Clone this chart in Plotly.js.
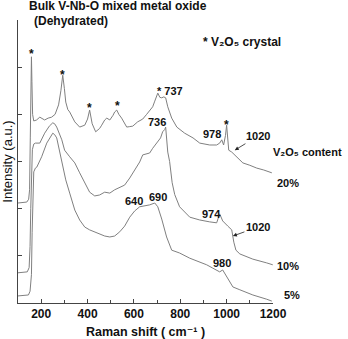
<!DOCTYPE html>
<html>
<head>
<meta charset="utf-8">
<script src="https://cdn.plot.ly/plotly-3.0.1.min.js"></script>
<style>html,body{margin:0;padding:0;background:#fff;}#chart{width:348px;height:339px;}</style>
</head>
<body>
<div id="chart"></div>
<script>
// Raman shift (cm-1) and intensity (a.u., offset) for each V2O5 content
const shift20 = [100,138,146,150,153,156,158,160,163,168,180,194,202,215,230,245,260,275,285,293,300,306,315,323,345,366,388,400,409,420,435,452,461,474,483,496,510,517,526,535,547,569,582,595,616,638,655,668,681,690,694,703,712,720,729,737,746,754,763,785,819,855,884,927,957,970,979,987,995,1000,1005,1009,1022,1044,1070,1100,1130,1160,1195];
const int20 = [2.12,2.14,2.20,2.40,3.50,4.80,5.22,4.70,4.00,3.86,3.88,3.94,3.92,3.88,3.92,3.94,4.00,4.20,4.50,4.83,4.55,4.26,4.10,4.05,3.84,3.73,3.77,3.90,4.09,3.80,3.63,3.70,3.77,3.88,3.92,3.88,3.98,4.05,4.09,4.00,3.92,3.73,3.74,3.75,3.84,3.90,4.00,4.09,4.16,4.28,4.35,4.45,4.36,4.35,4.37,4.35,4.16,4.02,3.92,3.73,3.60,3.50,3.39,3.35,3.35,3.39,3.46,3.35,3.55,3.77,3.50,3.24,3.20,3.10,2.97,2.92,2.86,2.82,2.76];

const shift10 = [100,140,148,152,155,158,162,168,175,194,215,235,250,258,267,289,301,323,345,366,388,409,431,452,474,496,517,539,560,582,603,625,638,668,681,698,715,724,733,737,741,746,754,765,776,797,841,884,927,957,970,983,1005,1022,1031,1040,1057,1113,1173,1199];
const int10 = [0.64,0.66,0.75,1.20,2.00,2.80,3.25,3.37,3.39,3.39,3.60,3.75,3.82,3.80,3.73,3.46,3.24,3.10,2.97,2.76,2.54,2.35,2.27,2.29,2.35,2.33,2.40,2.46,2.50,2.65,2.82,2.99,3.14,3.18,3.28,3.39,3.50,3.63,3.68,3.73,3.45,3.20,3.00,2.55,2.30,2.04,1.82,1.76,1.72,1.70,1.89,1.74,1.63,1.55,1.29,1.12,1.04,0.93,0.85,0.81];

const shift5 = [100,145,152,158,161,164,168,175,181,202,224,250,258,267,289,306,323,345,366,388,409,431,452,474,496,517,539,560,582,603,625,647,668,690,703,720,741,763,797,841,884,914,940,970,983,1000,1027,1057,1113,1173,1195];
const int5 = [0.15,0.17,0.25,0.60,1.50,2.40,2.78,2.86,2.88,3.10,3.39,3.60,3.57,3.50,3.03,2.61,2.33,1.97,1.76,1.61,1.55,1.51,1.46,1.42,1.40,1.42,1.51,1.63,1.82,1.95,2.04,2.06,2.08,2.12,2.04,1.78,1.40,1.12,1.06,0.95,0.87,0.81,0.74,0.66,0.70,0.55,0.34,0.28,0.17,0.08,0.04];

const seriesNames = ['20%', '10%', '5%'];
const xTickVals = [200, 400, 600, 800, 1000, 1200];
const xTickText = ['200', '400', '600', '800', '1000', '1200'];

// V2O5 crystal band markers (asterisks) on the 20% spectrum
const starShift = [157, 293, 409, 530, 1000];
const starInt = [5.27, 4.84, 4.14, 4.18, 3.78];

// band labels (plain)
const bandText = ['* 737', '978', '736', '640', '690', '974', '980'];
const bandShift = [754, 938, 700, 599, 703, 936, 979];
const bandInt = [4.49, 3.58, 3.83, 2.16, 2.24, 1.89, 0.85];

// 1020 shoulder labels with arrows: arrow tip (data) and label offset (px)
const arrowText = ['1020', '1020'];
const arrowShift = [1035, 1027];
const arrowInt = [3.24, 1.42];
const arrowDx = [23, 25];
const arrowDy = [-14, -9];

// labels outside the plot area (paper fractions)
const outerText = ['Bulk V-Nb-O mixed metal oxide', '(Dehydrated)', 'V\u2082O\u2085 content', '20%', '10%', '5%'];
const outerX = [0.035, 0.055, 1.137, 1.057, 1.059, 1.075];
const outerY = [1.051, 0.9975, 0.534, 0.424, 0.131, 0.028];
const outerAnchor = ['left', 'left', 'center', 'center', 'center', 'center'];
const outerSize = [12, 12, 11, 11, 11, 11];

const lineStyle = {color: '#808080', width: 1};
const traces = [
  {x: shift20, y: int20, name: seriesNames[0]},
  {x: shift10, y: int10, name: seriesNames[1]},
  {x: shift5, y: int5, name: seriesNames[2]}
].map(t => Object.assign(t, {type: 'scatter', mode: 'lines', line: lineStyle, showlegend: false, hoverinfo: 'skip'}));

const F = 'Liberation Sans, Arial, DejaVu Sans, sans-serif';
const bold = (size) => ({family: F, size: size, color: '#111', weight: 'bold'});

const annotations = [];
starShift.forEach((s, i) => annotations.push({x: s, y: starInt[i], xref: 'x', yref: 'y', xanchor: 'center', yanchor: 'middle', text: '*', showarrow: false, font: bold(12)}));
bandText.forEach((t, i) => annotations.push({x: bandShift[i], y: bandInt[i], xref: 'x', yref: 'y', xanchor: 'center', yanchor: 'middle', text: t, showarrow: false, font: bold(11)}));
arrowText.forEach((t, i) => annotations.push({x: arrowShift[i], y: arrowInt[i], xref: 'x', yref: 'y', text: t, showarrow: true, ax: arrowDx[i], ay: arrowDy[i], arrowhead: 2, arrowsize: 1, arrowwidth: 0.8, arrowcolor: '#222', font: bold(11)}));
outerText.forEach((t, i) => annotations.push({x: outerX[i], y: outerY[i], xref: 'paper', yref: 'paper', xanchor: outerAnchor[i], yanchor: 'middle', text: t, showarrow: false, font: bold(outerSize[i])}));
annotations.push({x: 1065, y: 5.53, xref: 'x', yref: 'y', xanchor: 'center', yanchor: 'middle', text: '* V\u2082O\u2085 crystal', showarrow: false, font: bold(12)});

const layout = {
  width: 348, height: 339,
  margin: {l: 18, r: 75, t: 20, b: 36},
  paper_bgcolor: '#fff', plot_bgcolor: '#fff',
  showlegend: false,
  xaxis: {
    range: [100, 1200], tickvals: xTickVals, ticktext: xTickText,
    ticks: 'inside', ticklen: 4, tickwidth: 1, tickcolor: '#444',
    minor: {dtick: 100, tick0: 100, ticks: 'inside', ticklen: 3, tickcolor: '#444', showgrid: false},
    showline: true, linecolor: '#444', linewidth: 1, showgrid: false, zeroline: false,
    tickfont: bold(12),
    title: {text: 'Raman shift ( cm\u207B\u00B9 )', font: bold(12.5), standoff: 6}
  },
  yaxis: {
    range: [0, 6], dtick: 1, tick0: 0,
    ticks: 'inside', ticklen: 4, tickwidth: 1, tickcolor: '#444',
    showticklabels: false,
    showline: true, linecolor: '#444', linewidth: 1, showgrid: false, zeroline: false,
    title: {text: 'Intensity (a.u.)', font: {family: F, size: 13, color: '#111'}, standoff: 2}
  },
  annotations: annotations
};

Plotly.newPlot('chart', traces, layout, {staticPlot: true, displayModeBar: false});
</script>
</body>
</html>
